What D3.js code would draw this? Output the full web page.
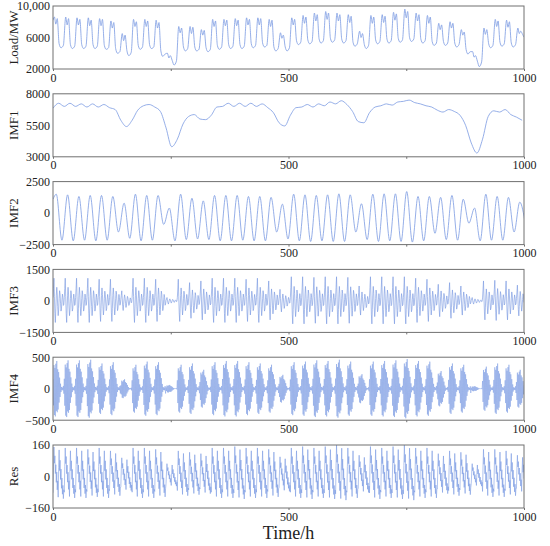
<!DOCTYPE html>
<html><head><meta charset="utf-8">
<script src="https://cdn.jsdelivr.net/npm/d3@7"></script>
<style>body{margin:0;background:#fff}svg{display:block}</style>
</head><body>
<script>
// ---------- DATA ----------
const xTickValues = [0, 250, 500, 750, 1000];
const xTickLabels = {0: "0", 500: "500", 1000: "1000"};

// Load: per day [morning peak, midday dip, afternoon peak, evening, night trough, pre-dawn]
const loadDayHours = [3, 6, 9, 13, 17, 22];
const loadStart = 8200;
const loadRows = [
 [8600,7700,8400,5200,4700,5000],[8600,7600,8400,5100,4600,4900],[8500,7600,8300,5100,4600,4900],
 [8500,7500,8200,5100,4600,4900],[8400,7500,8300,5000,4500,4700],[8100,7200,7900,4600,4000,4200],
 [6500,5600,6300,4300,3700,4100],[8300,7400,8000,5000,4500,4800],[8300,7400,8100,5100,4600,4800],
 [8200,7200,7900,4300,3600,3900],[4000,3400,3700,3100,2500,3000],[7400,6600,7200,4800,4300,4600],
 [7400,6500,7300,4800,4300,4500],[7000,6300,6900,4700,4200,4500],[8300,7400,8100,5000,4500,4800],
 [8300,7500,8200,5100,4600,4900],[8400,7500,8200,5100,4600,4900],[8500,7600,8300,5200,4700,5000],
 [8500,7600,8400,5300,4800,5000],[8300,7400,8200,4800,4300,4600],[6600,5900,6300,4800,4300,4700],
 [8500,7600,8300,5600,5100,5400],[8800,7800,8600,5700,5200,5500],[9100,8100,8900,5800,5300,5600],
 [9300,8300,9100,5900,5400,5700],[9100,8100,8900,5800,5300,5600],[8900,7900,8700,5400,4900,5200],
 [6800,6000,6500,5100,4600,5000],[8800,7800,8600,5700,5200,5500],[8900,7900,8700,5800,5300,5600],
 [9200,8200,9000,5900,5400,5700],[9600,8500,9300,6000,5500,5800],[9100,8100,8900,5800,5300,5600],
 [8800,7800,8600,5500,5000,5300],[7800,7000,7600,5500,5000,5300],[8000,7200,7800,5300,4800,5100],
 [7000,6300,6700,4500,3900,4200],[4200,3500,3700,3000,2300,2900],[7200,6400,7000,5200,4700,5000],
 [8300,7400,8100,5400,4900,5200],[8200,7300,8000,5300,4800,5100],[7200,6500,6800,6400,6000,6000]
];

// IMF1: one reading every 12 h
const imf1Step = 12;
const imf1 = [6850,7250,7000,7250,7000,7200,6950,7200,6950,7150,6900,6750,5900,5400,5900,6700,
 7050,7150,6950,6600,5300,3800,4400,5600,6200,6350,6000,5950,6300,6950,7000,7250,7000,7250,7000,
 7250,7000,7200,6900,6500,5700,5450,6300,6900,6950,7150,6950,7200,7050,7350,7200,7450,7150,6600,
 5800,5700,6500,6950,7050,7200,7100,7350,7400,7500,7300,7200,7050,6950,6700,6550,6750,6600,6300,
 5500,4100,3300,4400,6200,6650,6550,6750,6350,6150,5900];

// IMF2: daily peak (hour 7) and trough (hour 19)
const imf2Hours = [7, 19];
const imf2Start = 1100;
const imf2Peaks = [1500,1450,1320,1400,1400,1320,790,1500,1400,1400,400,1500,1180,970,1400,1400,1400,
 1320,1320,1250,710,1500,1450,1400,1450,1530,1450,740,1500,1530,1530,1710,1320,1320,1250,1400,1100,
 400,1500,1320,1250,870];
const imf2Troughs = [-2150,-2200,-2150,-2200,-2150,-1500,-2000,-2200,-2150,-900,-2200,-2100,-2050,-2100,
 -2200,-2200,-2150,-2200,-2200,-1500,-2050,-2200,-2250,-2200,-2250,-2250,-1500,-2100,-2250,-2200,-2250,
 -2300,-2200,-1600,-2100,-2150,-800,-2200,-2150,-2150,-1500,-900];

// IMF3, IMF4, Res: daily amplitude and the typical hourly shape of one day
const imf3DayAmp = [1080,1080,1080,1080,1030,1030,480,1080,1080,1030,160,1030,870,950,1080,1080,1080,
 1030,1080,950,550,1150,1150,1120,1150,1150,1120,710,1150,1150,1150,1150,1080,1030,790,870,710,160,
 950,980,950,750];
const imf3DayShape = [0.15,0.55,1.0,0.2,-0.55,-0.95,-0.35,0.25,0.6,0.3,-0.25,-0.65,-0.4,0.1,0.45,0.3,
 -0.1,-0.45,-0.35,0.05,0.3,0.15,-0.2,-0.15];

const imf4DayAmp = [440,450,450,460,400,420,150,380,430,420,60,380,400,300,420,440,440,420,400,380,220,
 420,430,450,440,460,430,230,430,440,450,470,440,430,280,400,380,40,350,400,380,300];
const imf4DayShape = [0.35,-0.6,0.85,-0.95,0.75,-1.0,0.9,-0.8,1.0,-0.85,0.7,-0.75,0.6,-0.5,0.4,-0.3,
 0.18,-0.12,0.06,-0.05,0.04,-0.06,0.1,-0.18];

const resDayAmp = [150,145,145,138,145,130,95,145,145,138,65,130,123,116,145,145,152,145,145,138,100,
 145,152,145,152,160,145,108,152,145,152,160,145,145,116,130,123,65,138,138,130,108];
const resDayShape = [-0.55,0.35,1.0,0.45,0.7,0.1,0.4,-0.2,0.15,-0.45,-0.15,-0.7,0.3,0.9,0.2,0.55,-0.1,
 0.25,-0.4,-0.05,-0.6,-0.3,-0.75,-0.45];

const panelLabels = ["Load/MW", "IMF1", "IMF2", "IMF3", "IMF4", "Res"];
const panelDomains = [[2000,10000],[3000,8000],[-2500,2500],[-1500,1500],[-500,500],[-160,160]];
const panelTickValues = [[2000,6000,10000],[3000,5500,8000],[-2500,0,2500],[-1500,0,1500],[-500,0,500],[-160,0,160]];
const panelTickLabels = [["2000","6000","10,000"],["3000","5500","8000"],["\u22122500","0","2500"],
 ["\u22121500","0","1500"],["\u2212500","0","500"],["\u2212160","0","160"]];
const xTitle = "Time/h";

// ---------- build series ----------
function dailySeries(rows, hoursOfDay, start) {
  const pts = [{t: 0, v: start}];
  rows.forEach((r, d) => r.forEach((v, k) => pts.push({t: d * 24 + hoursOfDay[k], v})));
  return pts;
}
function hourlySeries(amp, shape) {
  const pts = [];
  for (let t = 0; t <= 1000; t++) pts.push({t, v: amp[Math.floor(t / 24)] * shape[t % 24]});
  return pts;
}
const loadPts = dailySeries(loadRows, loadDayHours, loadStart);
const imf1Pts = imf1.map((v, i) => ({t: i * imf1Step, v}));
const imf2Pts = dailySeries(imf2Peaks.map((p, i) => [p, imf2Troughs[i]]), imf2Hours, imf2Start);
const seriesList = [
  {pts: loadPts, curve: d3.curveMonotoneX, w: 0.8},
  {pts: imf1Pts, curve: d3.curveMonotoneX, w: 0.8},
  {pts: imf2Pts, curve: d3.curveMonotoneX, w: 0.8},
  {pts: hourlySeries(imf3DayAmp, imf3DayShape), curve: d3.curveLinear, w: 0.65},
  {pts: hourlySeries(imf4DayAmp, imf4DayShape), curve: d3.curveLinear, w: 0.5},
  {pts: hourlySeries(resDayAmp, resDayShape), curve: d3.curveLinear, w: 0.6}
];

// ---------- layout ----------
const W = 550, H = 546, L = 53, R = 524, TOP0 = 6, STEP = 87.8, PH = 63;
const FONT = "'Liberation Serif','Times New Roman',serif";
const lineColor = "#7b9be2";

const svg = d3.select("body").append("svg").attr("width", W).attr("height", H)
  .style("font-family", FONT);
const x = d3.scaleLinear().domain([0, 1000]).range([L, R]);

panelLabels.forEach((lab, i) => {
  const top = TOP0 + i * STEP;
  const y = d3.scaleLinear().domain(panelDomains[i]).range([top + PH, top]);
  const g = svg.append("g");

  g.append("clipPath").attr("id", "clip" + i).append("rect")
    .attr("x", L).attr("y", top).attr("width", R - L).attr("height", PH);

  const s = seriesList[i];
  g.append("path").datum(s.pts)
    .attr("clip-path", `url(#clip${i})`)
    .attr("fill", "none").attr("stroke", lineColor).attr("stroke-width", s.w)
    .attr("stroke-linejoin", "round")
    .attr("d", d3.line().x(d => x(d.t)).y(d => y(d.v)).curve(s.curve));

  // frame
  g.append("rect").attr("x", L).attr("y", top).attr("width", R - L).attr("height", PH)
    .attr("fill", "none").attr("stroke", "#707070").attr("stroke-width", 1);

  // x axis
  const xa = g.append("g").attr("transform", `translate(0,${top + PH})`)
    .call(d3.axisBottom(x).tickValues(xTickValues).tickSize(2).tickPadding(2)
      .tickFormat(d => xTickLabels[d] || ""));
  xa.select(".domain").remove();
  xa.selectAll("line").attr("stroke", "#707070");
  xa.selectAll("text").attr("font-size", 12).attr("fill", "#222").style("font-family", FONT);

  // y axis
  const labs = panelTickLabels[i];
  const ya = g.append("g").attr("transform", `translate(${L},0)`)
    .call(d3.axisLeft(y).tickValues(panelTickValues[i]).tickSize(0).tickPadding(3)
      .tickFormat((d, k) => labs[k]));
  ya.select(".domain").remove();
  ya.selectAll("text").attr("font-size", 12).attr("fill", "#222").style("font-family", FONT);

  // y label
  g.append("text").attr("transform", `translate(18,${top + PH / 2}) rotate(-90)`)
    .attr("text-anchor", "middle").attr("font-size", 13).attr("fill", "#222").text(lab);
});

svg.append("text").attr("x", (L + R) / 2).attr("y", 539).attr("text-anchor", "middle")
  .attr("font-size", 18).attr("fill", "#222").text(xTitle);
</script>
</body></html>
